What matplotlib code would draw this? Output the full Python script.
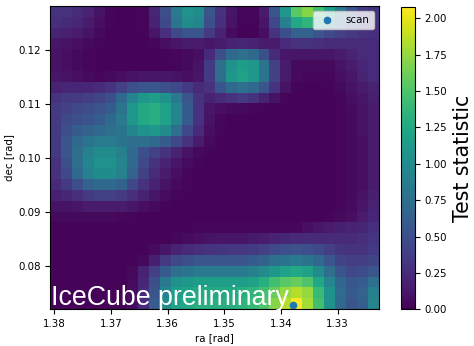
import numpy as np
import matplotlib.pyplot as plt

plt.rcParams['font.size'] = 7.4

# scan window in radians (ra runs right-to-left)
ra_lim = (1.3807, 1.3227)
dec_lim = (0.0720, 0.1282)

# best-fit position from the scan
scan_ra = [1.3379]
scan_dec = [0.0728]

# test statistic per cell; first row = highest dec, first column = highest ra
ts_rows = [
    [0.30, 0.30, 0.25, 0.20, 0.10, 0.03, 0.02, 0.02, 0.03, 0.22, 0.50, 0.85, 1.05, 1.00, 0.55, 0.30, 0.12, 0.04, 0.04, 0.15, 0.55, 1.10, 1.55, 1.70, 1.45, 1.15, 0.85, 0.55, 0.35, 0.30],
    [0.28, 0.25, 0.22, 0.15, 0.08, 0.03, 0.02, 0.02, 0.03, 0.20, 0.45, 0.80, 1.00, 0.95, 0.50, 0.28, 0.10, 0.03, 0.03, 0.12, 0.45, 0.90, 1.25, 1.35, 1.15, 0.95, 0.70, 0.50, 0.35, 0.30],
    [0.20, 0.18, 0.15, 0.10, 0.05, 0.02, 0.02, 0.02, 0.03, 0.12, 0.28, 0.45, 0.55, 0.55, 0.35, 0.20, 0.06, 0.02, 0.02, 0.08, 0.30, 0.50, 0.65, 0.65, 0.55, 0.45, 0.40, 0.35, 0.30, 0.28],
    [0.12, 0.10, 0.08, 0.05, 0.03, 0.02, 0.02, 0.02, 0.02, 0.04, 0.08, 0.12, 0.15, 0.15, 0.12, 0.15, 0.20, 0.22, 0.20, 0.15, 0.15, 0.25, 0.30, 0.30, 0.28, 0.25, 0.25, 0.25, 0.25, 0.25],
    [0.10, 0.08, 0.05, 0.03, 0.02, 0.02, 0.02, 0.02, 0.02, 0.02, 0.03, 0.04, 0.05, 0.08, 0.25, 0.50, 0.70, 0.75, 0.70, 0.50, 0.25, 0.12, 0.12, 0.12, 0.12, 0.12, 0.15, 0.20, 0.25, 0.25],
    [0.10, 0.08, 0.05, 0.03, 0.02, 0.02, 0.02, 0.02, 0.02, 0.02, 0.02, 0.03, 0.05, 0.10, 0.35, 0.75, 1.05, 1.15, 1.10, 0.80, 0.40, 0.15, 0.05, 0.05, 0.05, 0.05, 0.10, 0.15, 0.22, 0.25],
    [0.12, 0.10, 0.08, 0.05, 0.04, 0.05, 0.08, 0.10, 0.12, 0.12, 0.12, 0.10, 0.08, 0.12, 0.35, 0.75, 1.10, 1.20, 1.10, 0.80, 0.40, 0.15, 0.05, 0.04, 0.04, 0.04, 0.08, 0.12, 0.20, 0.25],
    [0.20, 0.22, 0.22, 0.22, 0.25, 0.30, 0.40, 0.50, 0.55, 0.55, 0.50, 0.45, 0.35, 0.25, 0.30, 0.55, 0.70, 0.75, 0.70, 0.55, 0.30, 0.10, 0.03, 0.02, 0.02, 0.03, 0.05, 0.10, 0.15, 0.20],
    [0.30, 0.35, 0.35, 0.38, 0.42, 0.50, 0.70, 0.95, 1.10, 1.15, 1.05, 0.85, 0.55, 0.30, 0.20, 0.25, 0.30, 0.35, 0.30, 0.20, 0.10, 0.03, 0.02, 0.02, 0.02, 0.02, 0.04, 0.08, 0.12, 0.18],
    [0.35, 0.40, 0.45, 0.48, 0.52, 0.60, 0.80, 1.10, 1.25, 1.30, 1.20, 0.95, 0.60, 0.30, 0.12, 0.08, 0.06, 0.05, 0.04, 0.03, 0.02, 0.02, 0.02, 0.02, 0.02, 0.02, 0.03, 0.06, 0.10, 0.15],
    [0.35, 0.45, 0.50, 0.55, 0.60, 0.70, 0.85, 1.10, 1.25, 1.30, 1.20, 0.95, 0.60, 0.30, 0.10, 0.04, 0.02, 0.02, 0.02, 0.02, 0.02, 0.02, 0.02, 0.02, 0.02, 0.02, 0.03, 0.05, 0.10, 0.15],
    [0.35, 0.50, 0.60, 0.65, 0.70, 0.75, 0.80, 0.95, 1.05, 1.10, 1.00, 0.75, 0.45, 0.25, 0.08, 0.03, 0.02, 0.02, 0.02, 0.02, 0.02, 0.02, 0.02, 0.02, 0.02, 0.02, 0.03, 0.05, 0.10, 0.15],
    [0.35, 0.55, 0.70, 0.80, 0.85, 0.85, 0.80, 0.75, 0.75, 0.70, 0.60, 0.45, 0.30, 0.15, 0.05, 0.02, 0.02, 0.02, 0.02, 0.02, 0.02, 0.02, 0.02, 0.02, 0.02, 0.02, 0.03, 0.05, 0.08, 0.15],
    [0.35, 0.55, 0.75, 0.90, 1.00, 1.00, 0.90, 0.70, 0.50, 0.40, 0.30, 0.20, 0.10, 0.05, 0.03, 0.02, 0.02, 0.02, 0.02, 0.02, 0.02, 0.02, 0.02, 0.02, 0.02, 0.02, 0.03, 0.05, 0.08, 0.15],
    [0.30, 0.50, 0.75, 0.95, 1.05, 1.05, 0.95, 0.70, 0.45, 0.30, 0.20, 0.12, 0.06, 0.03, 0.02, 0.02, 0.02, 0.02, 0.02, 0.02, 0.02, 0.02, 0.02, 0.02, 0.02, 0.02, 0.03, 0.05, 0.08, 0.15],
    [0.30, 0.45, 0.70, 0.90, 1.00, 1.00, 0.90, 0.65, 0.40, 0.25, 0.15, 0.08, 0.04, 0.02, 0.02, 0.02, 0.02, 0.02, 0.02, 0.02, 0.02, 0.02, 0.02, 0.02, 0.02, 0.02, 0.03, 0.05, 0.08, 0.15],
    [0.25, 0.35, 0.50, 0.65, 0.70, 0.70, 0.65, 0.45, 0.30, 0.20, 0.10, 0.05, 0.03, 0.02, 0.02, 0.02, 0.02, 0.02, 0.02, 0.02, 0.02, 0.02, 0.02, 0.02, 0.02, 0.02, 0.03, 0.05, 0.08, 0.15],
    [0.18, 0.22, 0.28, 0.35, 0.40, 0.40, 0.35, 0.28, 0.20, 0.12, 0.06, 0.03, 0.02, 0.02, 0.02, 0.02, 0.02, 0.02, 0.02, 0.02, 0.02, 0.02, 0.02, 0.02, 0.02, 0.02, 0.03, 0.05, 0.10, 0.18],
    [0.10, 0.10, 0.12, 0.15, 0.15, 0.15, 0.15, 0.12, 0.08, 0.05, 0.03, 0.02, 0.02, 0.02, 0.02, 0.02, 0.02, 0.02, 0.02, 0.02, 0.02, 0.02, 0.02, 0.02, 0.02, 0.02, 0.04, 0.06, 0.12, 0.20],
    [0.05, 0.05, 0.05, 0.05, 0.05, 0.05, 0.04, 0.03, 0.02, 0.02, 0.02, 0.02, 0.02, 0.02, 0.02, 0.02, 0.02, 0.02, 0.02, 0.02, 0.02, 0.02, 0.02, 0.02, 0.02, 0.03, 0.05, 0.08, 0.15, 0.22],
    [0.02, 0.02, 0.02, 0.02, 0.02, 0.02, 0.02, 0.02, 0.02, 0.02, 0.02, 0.02, 0.02, 0.04, 0.04, 0.04, 0.04, 0.04, 0.04, 0.04, 0.04, 0.04, 0.04, 0.08, 0.12, 0.15, 0.18, 0.20, 0.22, 0.28],
    [0.02, 0.02, 0.02, 0.02, 0.02, 0.02, 0.02, 0.02, 0.02, 0.02, 0.02, 0.04, 0.06, 0.08, 0.10, 0.12, 0.12, 0.12, 0.14, 0.16, 0.20, 0.22, 0.25, 0.25, 0.25, 0.25, 0.25, 0.25, 0.28, 0.32],
    [0.02, 0.02, 0.02, 0.02, 0.02, 0.02, 0.02, 0.02, 0.02, 0.06, 0.12, 0.20, 0.25, 0.28, 0.30, 0.32, 0.33, 0.33, 0.35, 0.40, 0.45, 0.50, 0.52, 0.50, 0.45, 0.38, 0.32, 0.30, 0.30, 0.35],
    [0.02, 0.02, 0.02, 0.02, 0.02, 0.02, 0.02, 0.02, 0.05, 0.18, 0.35, 0.45, 0.50, 0.55, 0.55, 0.55, 0.55, 0.55, 0.60, 0.65, 0.75, 0.80, 0.85, 0.80, 0.70, 0.55, 0.42, 0.38, 0.38, 0.42],
    [0.02, 0.02, 0.02, 0.02, 0.02, 0.02, 0.02, 0.05, 0.20, 0.40, 0.60, 0.75, 0.80, 0.85, 0.85, 0.85, 0.85, 0.85, 0.90, 1.00, 1.10, 1.20, 1.25, 1.20, 1.00, 0.75, 0.55, 0.45, 0.48, 0.55],
    [0.02, 0.02, 0.02, 0.02, 0.02, 0.02, 0.02, 0.06, 0.22, 0.50, 0.85, 1.05, 1.10, 1.15, 1.15, 1.15, 1.15, 1.15, 1.20, 1.30, 1.45, 1.55, 1.60, 1.50, 1.25, 0.95, 0.68, 0.55, 0.60, 0.75],
    [0.02, 0.02, 0.02, 0.02, 0.02, 0.02, 0.02, 0.06, 0.25, 0.55, 0.95, 1.15, 1.20, 1.25, 1.25, 1.25, 1.25, 1.30, 1.35, 1.45, 1.60, 1.75, 1.85, 1.75, 1.40, 1.05, 0.72, 0.58, 0.65, 0.90],
    [0.02, 0.02, 0.02, 0.02, 0.02, 0.02, 0.02, 0.06, 0.25, 0.60, 1.00, 1.20, 1.25, 1.30, 1.30, 1.30, 1.30, 1.35, 1.40, 1.50, 1.70, 1.85, 2.08, 1.80, 1.45, 1.05, 0.70, 0.55, 0.62, 0.95],
]

ts = np.array(ts_rows)[::-1]
ny, nx = ts.shape
ra_edges = np.linspace(ra_lim[0], ra_lim[1], nx + 1)
dec_edges = np.linspace(dec_lim[0], dec_lim[1], ny + 1)

fig = plt.figure(figsize=(4.74, 3.46), dpi=100)
ax = fig.add_axes([0.1065, 0.1069, 0.6930, 0.8757])
cax = fig.add_axes([0.8454, 0.1061, 0.0302, 0.8746])

mesh = ax.pcolormesh(ra_edges, dec_edges, ts, cmap='viridis', vmin=0, vmax=ts.max())
ax.plot(scan_ra, scan_dec, 'o', ms=4.5, color='tab:blue', label='scan')
ax.set_xlim(*ra_lim)
ax.set_ylim(*dec_lim)
ax.set_xlabel('ra [rad]', labelpad=3)
ax.set_ylabel('dec [rad]', labelpad=3)
ax.legend(loc='upper right')

ax.text(0.003, 0.013, 'IceCube preliminary', transform=ax.transAxes,
        color='white', fontsize=19.3, family='Liberation Sans', va='baseline')

cb = fig.colorbar(mesh, cax=cax)
cb.set_ticks(np.arange(0, 2.01, 0.25))
cb.set_label('Test statistic', fontsize=14.8)

fig.savefig('out.png', dpi=100)
